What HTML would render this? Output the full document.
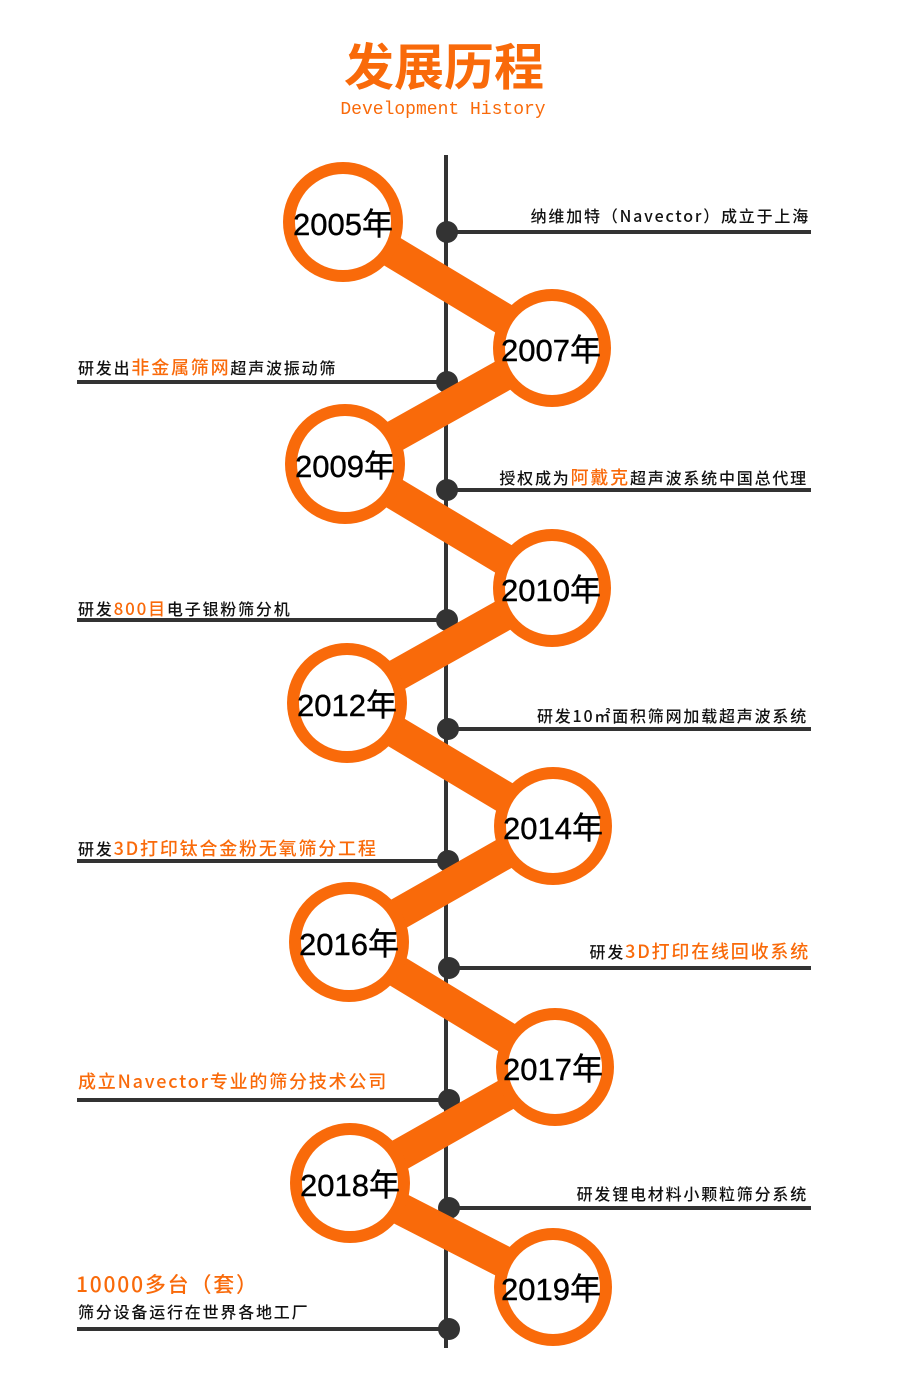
<!DOCTYPE html>
<html><head><meta charset="utf-8"><style>
html,body{margin:0;padding:0;background:#fff}
svg{display:block}
.t{font-family:"Noto Sans CJK SC","Liberation Sans",sans-serif;font-weight:500;letter-spacing:1.8px}
.y{font-family:"Liberation Sans","Noto Sans CJK SC",sans-serif}
</style></head><body>
<svg width="900" height="1386" viewBox="0 0 900 1386" xmlns="http://www.w3.org/2000/svg">
<text x="444" y="85" text-anchor="middle" font-size="50" font-weight="bold" fill="#f96a0a" style="font-family:'Noto Sans CJK SC',sans-serif">发展历程</text>
<text x="443" y="114" text-anchor="middle" font-size="18" fill="#f96a0a" style="font-family:'Liberation Mono',monospace">Development History</text>
<line x1="446" y1="155" x2="446" y2="1348" stroke="#333" stroke-width="4"/>
<g stroke="#333" stroke-width="4">
<line x1="447" y1="232" x2="811" y2="232"/>
<line x1="77" y1="382" x2="447" y2="382"/>
<line x1="447" y1="490" x2="811" y2="490"/>
<line x1="77" y1="620" x2="447" y2="620"/>
<line x1="447" y1="729" x2="811" y2="729"/>
<line x1="77" y1="861" x2="447" y2="861"/>
<line x1="447" y1="968" x2="811" y2="968"/>
<line x1="77" y1="1100" x2="447" y2="1100"/>
<line x1="447" y1="1208" x2="811" y2="1208"/>
<line x1="77" y1="1329" x2="447" y2="1329"/>
</g>
<g fill="#333">
<circle cx="447" cy="232" r="11"/><circle cx="447" cy="382" r="11"/><circle cx="447" cy="490" r="11"/><circle cx="447" cy="620" r="11"/><circle cx="448" cy="729" r="11"/><circle cx="448" cy="861" r="11"/><circle cx="449" cy="968" r="11"/><circle cx="449" cy="1100" r="11"/><circle cx="449" cy="1208" r="11"/><circle cx="449" cy="1329" r="11"/>
</g>
<polyline fill="none" stroke="#f96a0a" stroke-width="32" stroke-linejoin="round" points="343,222 552,348 345,464 552,588 347,703 553,826 349,942 555,1067 350,1183 553,1287"/>
<g fill="#f96a0a">
<circle cx="343" cy="222" r="60"/><circle cx="552" cy="348" r="59"/><circle cx="345" cy="464" r="60"/><circle cx="552" cy="588" r="59"/><circle cx="347" cy="703" r="60"/><circle cx="553" cy="826" r="59"/><circle cx="349" cy="942" r="60"/><circle cx="555" cy="1067" r="59"/><circle cx="350" cy="1183" r="60"/><circle cx="553" cy="1287" r="59"/>
</g>
<g fill="#fff">
<circle cx="343" cy="222" r="48"/><circle cx="552" cy="348" r="47"/><circle cx="345" cy="464" r="48"/><circle cx="552" cy="588" r="47"/><circle cx="347" cy="703" r="48"/><circle cx="553" cy="826" r="47"/><circle cx="349" cy="942" r="48"/><circle cx="555" cy="1067" r="47"/><circle cx="350" cy="1183" r="48"/><circle cx="553" cy="1287" r="47"/>
</g>
<g class="y" font-size="31" fill="#000" text-anchor="middle" stroke="#000" stroke-width="0.4">
<text x="343" y="235">2005年</text><text x="551" y="361">2007年</text><text x="345" y="477">2009年</text><text x="551" y="601">2010年</text><text x="347" y="716">2012年</text><text x="553" y="839">2014年</text><text x="349" y="955">2016年</text><text x="553" y="1080">2017年</text><text x="350" y="1196">2018年</text><text x="551" y="1300">2019年</text>
</g>
<g class="t" font-size="16" fill="#111">
<text x="810" y="222" text-anchor="end">纳维加特（Navector）成立于上海</text>
<text x="78" y="374">研发出<tspan fill="#f96a0a" font-size="18">非金属筛网</tspan>超声波振动筛</text>
<text x="808" y="484" text-anchor="end">授权成为<tspan fill="#f96a0a" font-size="18">阿戴克</tspan>超声波系统中国总代理</text>
<text x="78" y="615">研发<tspan fill="#f96a0a" font-size="17">800目</tspan>电子银粉筛分机</text>
<text x="808" y="722" text-anchor="end">研发10㎡面积筛网加载超声波系统</text>
<text x="78" y="855">研发<tspan fill="#f96a0a" font-size="18">3D打印钛合金粉无氧筛分工程</tspan></text>
<text x="810" y="958" text-anchor="end">研发<tspan fill="#f96a0a" font-size="18">3D打印在线回收系统</tspan></text>
<text x="78" y="1088" fill="#f96a0a" font-size="18">成立Navector专业的筛分技术公司</text>
<text x="808" y="1200" text-anchor="end">研发锂电材料小颗粒筛分系统</text>
<text x="76" y="1292" fill="#f96a0a" font-size="21">10000多台（套）</text>
<text x="78" y="1318">筛分设备运行在世界各地工厂</text>
</g>
</svg>
</body></html>
